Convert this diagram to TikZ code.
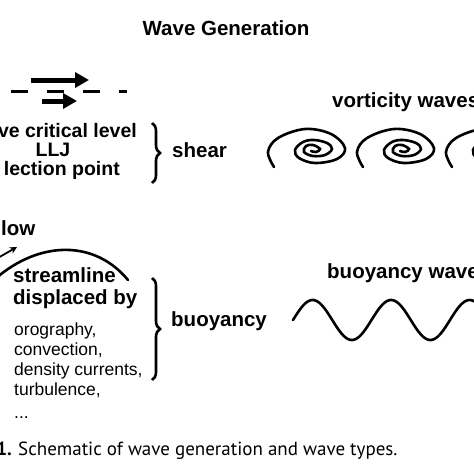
\documentclass[tikz,border=0pt]{standalone}
\usepackage{fontspec}
\setmainfont{Liberation Sans}
\newfontfamily\captfont{PT Sans}
\usetikzlibrary{arrows.meta,decorations.pathreplacing}

\begin{document}
\begin{tikzpicture}[x=1pt,y=-1pt,
  every node/.style={inner sep=0pt},
  bigtxt/.style={font=\fontsize{20.5}{22}\selectfont\bfseries},
  lefttxt/.style={font=\fontsize{19.5}{19}\selectfont\bfseries},
  smalltxt/.style={font=\fontsize{17.5}{20}\selectfont, align=left},
  capt/.style={font=\fontsize{19}{22}\selectfont\captfont},
  wind/.style={line width=5pt, -{Triangle[length=14pt,width=15pt]}},
  curvy/.style={line width=2.6pt, line cap=round},
  bracket/.style={line width=2.6pt, decorate, decoration={brace, amplitude=8pt}}]
\useasboundingbox (0,0) rectangle (474,474);
\clip (0,0) rectangle (474,474);

\node[bigtxt] (title) at (226,28) {Wave Generation};

% shear
\draw[line width=3pt, dash pattern=on 17pt off 19pt] (11,91) -- (127,91);
\draw[wind] (31,80) -- (89,80);
\draw[wind] (42,101) -- (77,101);
\node[lefttxt, anchor=base east] (crit) at (137,137) {ve critical level};
\node[lefttxt, anchor=base] (llj) at (53,156) {LLJ};
\node[lefttxt, anchor=base east] (infl) at (120,175) {lection point};
\draw[bracket] (152,123) -- (152,183);
\node[bigtxt, anchor=base west] (shear) at (172,157) {shear};

% buoyancy
\node[bigtxt, anchor=base west] (flow) at (1,235) {low};
\draw[line width=1.8pt, -{Stealth[length=7pt,width=7pt]}] (-4,259) -- (17,247);
\draw[curvy] (-5,279) .. controls (40,240) and (95,240) .. (128,280);
\node[bigtxt, anchor=base west] (strm) at (13,282) {streamline};
\node[bigtxt, anchor=base west] (disp) at (13,304) {displaced by};
\node[smalltxt, anchor=north west] (causes) at (14,323)
  {orography,\\convection,\\density currents,\\turbulence,\\[3pt]...};
\draw[bracket] (152,278) -- (152,380);
\node[bigtxt, anchor=base west] (buoy) at (171,326) {buoyancy};

% wave types
\node[bigtxt, anchor=base west] (vort) at (332,107) {vorticity waves};
\foreach \dx in {0,89,178}
  \draw[curvy, shift={(\dx,0)}] plot[smooth, tension=0.6] coordinates {
    (274,167) (268,152) (278,138) (305,129) (331,134) (345,148)
    (337,159) (315,163) (299,158) (295,150) (303,142) (314,140)
    (327,143) (332,149) (325,155) (313,156) (304,152) (306,146)
    (313,145) (320,149) (316,152) (311,151)};
\node[bigtxt, anchor=base west] (bwave) at (327,278) {buoyancy wave};
\draw[curvy] plot[domain=293:480, samples=120] (\x, {320-20*sin(4.586*(\x-293))});

% caption
\node[capt, anchor=base east] (fignum) at (12,455) {\bfseries 1.};
\node[capt, anchor=base west] (caption) at (18,455) {Schematic of wave generation and wave types.};
\end{tikzpicture}
\end{document}
